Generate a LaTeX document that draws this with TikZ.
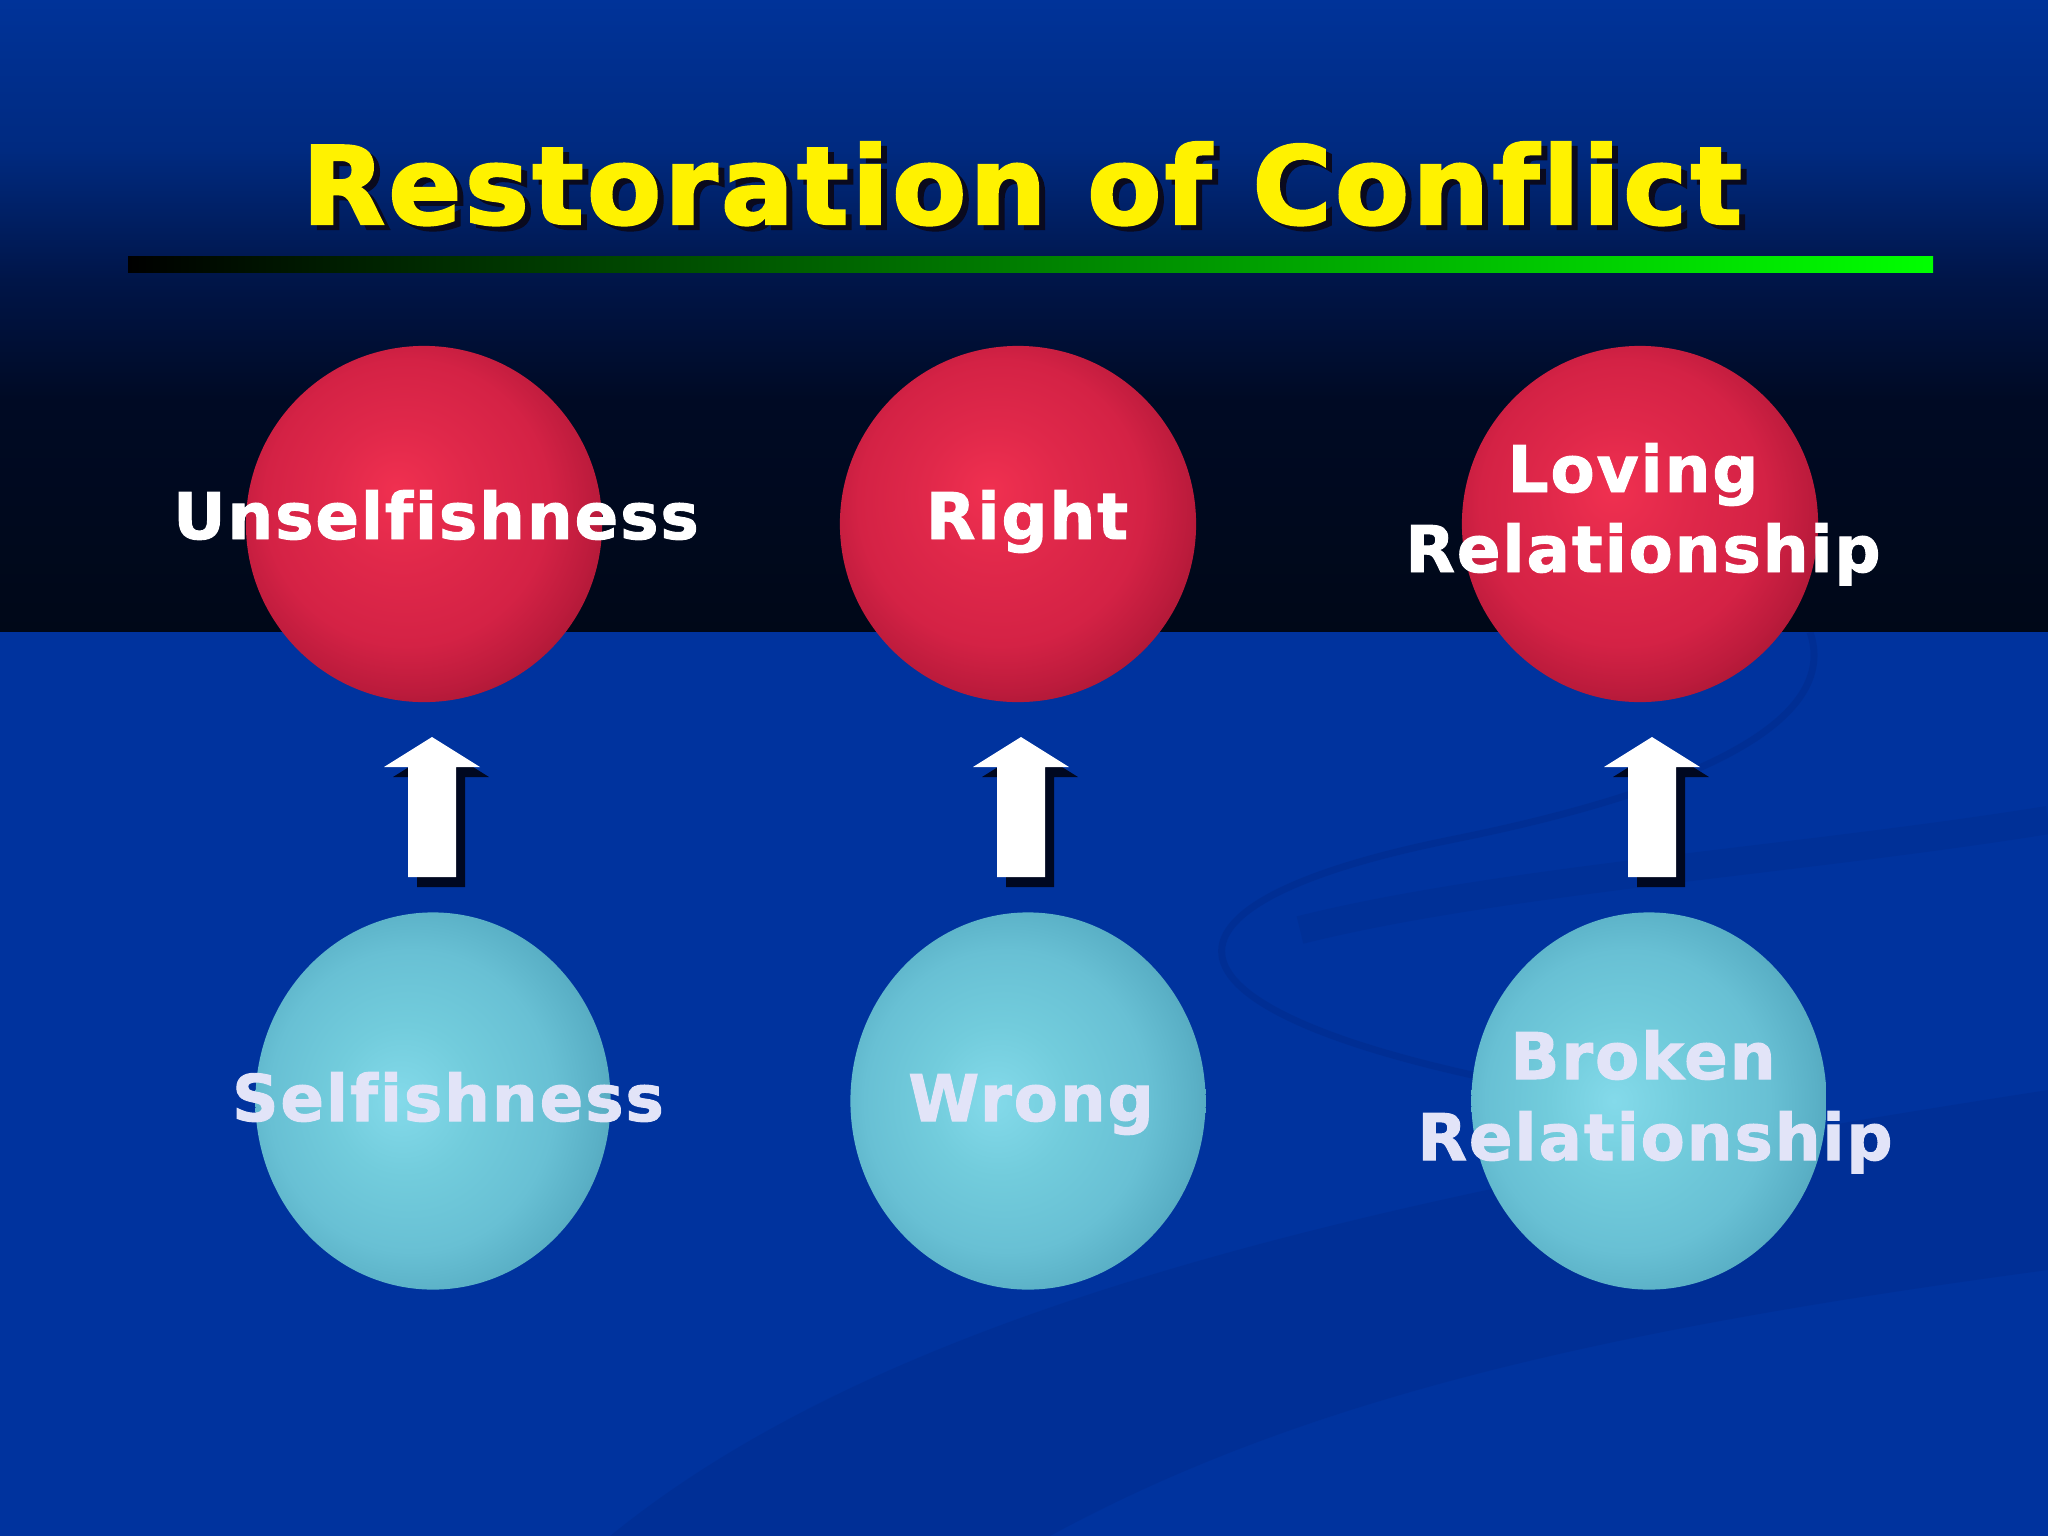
\documentclass[tikz,border=0pt]{standalone}
\usepackage{fontspec}
\setmainfont{DejaVu Sans}[Ligatures=NoCommon]
\usetikzlibrary{shapes.geometric}
\definecolor{bgblue}{HTML}{00339E}
\definecolor{cA}{HTML}{003399}
\definecolor{cB}{HTML}{002A80}
\definecolor{cC}{HTML}{001548}
\definecolor{cD}{HTML}{000A24}
\definecolor{cE}{HTML}{000818}
\definecolor{rA}{HTML}{F03050}
\definecolor{rB}{HTML}{E0284A}
\definecolor{rC}{HTML}{D42245}
\definecolor{rD}{HTML}{BC1B3C}
\definecolor{rE}{HTML}{9C152E}
\definecolor{kA}{HTML}{84DAEA}
\definecolor{kB}{HTML}{72CCDC}
\definecolor{kC}{HTML}{68C0D4}
\definecolor{kD}{HTML}{5AB0C6}
\definecolor{kE}{HTML}{4C9AB0}
\definecolor{lav}{HTML}{E2E4F8}
\definecolor{arrowshadow}{HTML}{000820}
\definecolor{titleshadow}{HTML}{0A0A1E}
\definecolor{swoosh}{HTML}{002B8C}
\pgfdeclareverticalshading{topband}{100bp}{color(0bp)=(cE); color(25bp)=(cE); color(43.3bp)=(cD); color(52.8bp)=(cC); color(63.1bp)=(cB); color(75bp)=(cA); color(100bp)=(cA)}
\pgfdeclareradialshading{redball}{\pgfpoint{-4bp}{5bp}}{color(0bp)=(rA); color(10bp)=(rB); color(20bp)=(rC); color(26bp)=(rD); color(32bp)=(rE); color(50bp)=(rE)}
\pgfdeclareradialshading{cyanball}{\pgfpoint{-5bp}{0bp}}{color(0bp)=(kA); color(10bp)=(kB); color(20bp)=(kC); color(26bp)=(kD); color(32bp)=(kE); color(50bp)=(kE)}
\tikzset{
  titletext/.style={font=\fontsize{30.7pt}{36pt}\selectfont\bfseries\addfontfeature{LetterSpace=3,FakeBold=2}, inner sep=0, anchor=base},
  lbl/.style={font=\fontsize{18.3pt}{22.7pt}\selectfont\bfseries\addfontfeature{LetterSpace=3,FakeBold=1.5}, inner sep=0, anchor=base},
  toplbl/.style={lbl, text=white},
  botlbl/.style={lbl, text=lav},
  redsphere/.style={circle, inner sep=0, minimum size=3.56cm, shading=redball},
  cyansphere/.style={ellipse, inner sep=0, minimum width=3.55cm, minimum height=3.77cm, shading=cyanball},
  arrowbody/.style={fill=white},
  arrowshade/.style={fill=arrowshadow},
}
\newcommand\blockarrowpath[1]{(#1) ++(-24,0) -- ++(0,-110) -- ++(-24,0) -- ++(48,-30) -- ++(48,30) -- ++(-24,0) -- ++(0,110) -- cycle}
\begin{document}
\begin{tikzpicture}[x=0.01cm,y=-0.01cm]
\useasboundingbox (0,0) rectangle (2048,1536);
% background
\fill[bgblue] (0,0) rectangle (2048,1536);
\shade[shading=topband] (0,0) rectangle (2048,631);
% faint swooshes
\begin{scope}
  \clip (0,632) rectangle (2048,1536);
  \fill[swoosh, opacity=0.4] (610,1536) .. controls (900,1300) and (1400,1190) .. (2048,1090) -- (2048,1270) .. controls (1600,1330) and (1300,1400) .. (1050,1536) -- cycle;
  \draw[swoosh, line width=2pt, opacity=0.5] (1810,632) .. controls (1840,720) and (1700,790) .. (1450,840) .. controls (1130,905) and (1140,1010) .. (1520,1085);
  \draw[swoosh, line width=8pt, opacity=0.35] (2048,820) .. controls (1800,860) and (1500,880) .. (1300,930);
\end{scope}
% title
\node[titletext, text=titleshadow] (tsh) at (1028,229) {Restoration of Conflict};
\node[titletext, text=yellow] (title) at (1022,224) {Restoration of Conflict};
\shade[left color=black, right color=green] (128,256) rectangle (1933,272);
% spheres
\node[redsphere] (r1) at (424,524) {};
\node[redsphere] (r2) at (1018,524) {};
\node[redsphere] (r3) at (1640,524) {};
\node[cyansphere] (c1) at (433,1101) {};
\node[cyansphere] (c2) at (1028,1101) {};
\node[cyansphere] (c3) at (1649,1101) {};
% arrows (from lower spheres up to upper spheres)
\coordinate (a1) at (432,877);
\coordinate (a2) at (1021,877);
\coordinate (a3) at (1652,877);
\foreach \a in {a1,a2,a3}{
  \fill[arrowshade] ([shift={(9,10)}]\a) ++(-24,0) -- ++(0,-110) -- ++(-24,0) -- ++(48,-30) -- ++(48,30) -- ++(-24,0) -- ++(0,110) -- cycle;
  \fill[arrowbody] \blockarrowpath{\a};
}
% labels
\node[toplbl] (t1) at (436,539) {Unselfishness};
\node[toplbl] (t2) at (1027,539) {Right};
\node[toplbl] (t3a) at (1633,492) {Loving};
\node[toplbl] (t3b) at (1643,572) {Relationship};
\node[botlbl] (b1) at (448,1121) {Selfishness};
\node[botlbl] (b2) at (1031,1121) {Wrong};
\node[botlbl] (b3a) at (1643,1079) {Broken};
\node[botlbl] (b3b) at (1655,1160) {Relationship};
\end{tikzpicture}
\end{document}
